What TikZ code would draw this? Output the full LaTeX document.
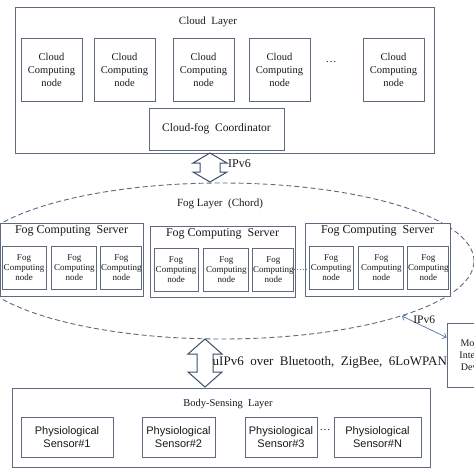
\documentclass[tikz,border=0pt]{standalone}
\usepackage{fontspec}
\setmainfont{Liberation Serif}
\setsansfont{Liberation Sans}
\usepackage{tikz}
\usetikzlibrary{shapes.geometric, arrows.meta, positioning, calc}
\definecolor{boxline}{RGB}{96,106,126}
\definecolor{arrowline}{RGB}{58,78,108}
\definecolor{linkblue}{RGB}{80,115,175}
\definecolor{inktext}{RGB}{25,25,25}
\tikzset{
  layerbox/.style={rectangle, draw=boxline, line width=0.9pt, fill=white, inner sep=0pt},
  cloudnode/.style={layerbox, minimum width=61pt, minimum height=63pt, align=center, font=\fontsize{10.5}{13}\selectfont},
  fognode/.style={layerbox, minimum height=43pt, align=center, font=\fontsize{9}{10}\selectfont},
  sensor/.style={layerbox, minimum height=40pt, align=center, font=\sffamily\fontsize{11}{13}\selectfont},
  servertitle/.style={inner sep=2pt, font=\fontsize{12}{14}\selectfont},
  bigarrow/.style={draw=arrowline, line width=1pt, fill=white, line join=miter},
}
\begin{document}
\begin{tikzpicture}[x=1pt, y=-1pt, text=inktext]
    \useasboundingbox (0,0) rectangle (474,474);
    \clip (0,0) rectangle (474,474);
    % cloud layer
    \node (cloud) [layerbox, minimum width=419pt, minimum height=146pt] at (224.5,80) {};%draws cloud layer
    \node (cloudtitle) [font=\fontsize{11}{13}\selectfont] at (208,22) {Cloud\ \ Layer};
    \node (cn1) [cloudnode] at (51.5,69.5) {Cloud\\Computing\\node};
    \node (cn2) [cloudnode] at (124.5,69.5) {Cloud\\Computing\\node};
    \node (cn3) [cloudnode] at (203.5,69.5) {Cloud\\Computing\\node};
    \node (cn4) [cloudnode] at (279.5,69.5) {Cloud\\Computing\\node};
    \node (cdots) [font=\fontsize{11}{13}\selectfont] at (331,62) {\dots};
    \node (cn5) [cloudnode] at (393.5,69.5) {Cloud\\Computing\\node};
    \node (coord) [layerbox, minimum width=135pt, minimum height=42pt, font=\fontsize{11.5}{14}\selectfont] at (216.5,129) {Cloud-fog\ \ Coordinator};%draws coordinator
    % fog layer
    \node (foglayer) [ellipse, draw=boxline, line width=0.9pt, dash pattern=on 5pt off 3pt, minimum width=504pt, minimum height=156pt, inner sep=0pt] at (222,261) {};%draws fog ellipse
    \node (fogtitle) [font=\fontsize{11}{13}\selectfont] at (220,204) {Fog Layer\ \ (Chord)};
    \node (fs1) [layerbox, minimum width=143pt, minimum height=73pt] at (71.5,259.5) {};
    \node (fs2) [layerbox, minimum width=145pt, minimum height=71pt] at (222.5,261.5) {};
    \node (fs3) [layerbox, minimum width=145pt, minimum height=73pt] at (377.5,259.5) {};
    \node (fst1) [servertitle, below=1pt of fs1.north] {Fog Computing\ \ Server};
    \node (fst2) [servertitle, below=1pt of fs2.north] {Fog Computing\ \ Server};
    \node (fst3) [servertitle, below=1pt of fs3.north] {Fog Computing\ \ Server};
    \node (fn11) [fognode, minimum width=44pt] at (24,267.5) {Fog\\Computing\\node};
    \node (fn12) [fognode, minimum width=45pt, right=5pt of fn11] {Fog\\Computing\\node};
    \node (fn13) [fognode, minimum width=41pt, right=3pt of fn12] {Fog\\Computing\\node};
    \node (fn21) [fognode, minimum width=44pt] at (176,269.5) {Fog\\Computing\\node};
    \node (fn22) [fognode, minimum width=45pt, right=5pt of fn21] {Fog\\Computing\\node};
    \node (fn23) [fognode, minimum width=41pt, right=3pt of fn22] {Fog\\Computing\\node};
    \node (fn31) [fognode, minimum width=44pt] at (331,267.5) {Fog\\Computing\\node};
    \node (fn32) [fognode, minimum width=45pt, right=5pt of fn31] {Fog\\Computing\\node};
    \node (fn33) [fognode, minimum width=41pt, right=3pt of fn32] {Fog\\Computing\\node};
    \draw[boxline, line width=0.9pt, dotted] (fn23.east) -- (fn23.east -| fn31.west);%dots between servers
    % mobile device
    \node (mobile) [layerbox, minimum width=56pt, minimum height=64pt, align=center, font=\fontsize{10}{12}\selectfont] at (475,355) {Mobile\\Internet\\Device};
    \draw[linkblue, line width=0.7pt, {Straight Barb[length=3pt]}-{Straight Barb[length=3pt]}] (foglayer.-17) -- node[midway, above, yshift=-1pt, text=inktext, font=\fontsize{11.5}{13}\selectfont]{IPv6} ($(mobile.north west)!0.23!(mobile.south west)$);%IPv6 link to device
    % body-sensing layer
    \node (body) [layerbox, minimum width=418pt, minimum height=79pt] at (221,427.5) {};%draws body layer
    \node (bodytitle) [font=\fontsize{10.5}{13}\selectfont] at (228,404) {Body-Sensing\ \ Layer};
    \node (ps1) [sensor, minimum width=92pt] at (67,437) {Physiological\\Sensor\#1};
    \node (ps2) [sensor, minimum width=73pt] at (178.5,437.5) {Physiological\\Sensor\#2};
    \node (ps3) [sensor, minimum width=72pt] at (281,437) {Physiological\\Sensor\#3};
    \node (psdots) [font=\fontsize{11}{13}\selectfont] at (325,430) {\dots};
    \node (psn) [sensor, minimum width=87pt] at (377.5,437) {Physiological\\Sensor\#N};
    % double arrows
    \coordinate (up1) at (210,153);
    \coordinate (dn1) at (210,182);
    \draw[bigarrow] (up1) -- ++(17,10) -- ++(-7,0) -- ++(0,9) -- ++(7,0) -- (dn1) -- ++(-17,-10) -- ++(7,0) -- ++(0,-9) -- ++(-7,0) -- cycle;%cloud to fog
    \node (ipv6) [anchor=west, inner sep=1pt, font=\fontsize{12}{14}\selectfont] at (227,164) {IPv6};
    \coordinate (up2) at (205,339);
    \coordinate (dn2) at (205,387);
    \draw[bigarrow] (up2) -- ++(17,15) -- ++(-9,0) -- ++(0,18) -- ++(9,0) -- (dn2) -- ++(-17,-15) -- ++(9,0) -- ++(0,-18) -- ++(-9,0) -- cycle;%fog to body
    \node (uipv6) [anchor=west, inner sep=0pt, font=\fontsize{13}{15}\selectfont] at (212.5,362) {uIPv6\ \ over\ \ Bluetooth,\ \ ZigBee,\ \ 6LoWPAN};
\end{tikzpicture}
\end{document}
